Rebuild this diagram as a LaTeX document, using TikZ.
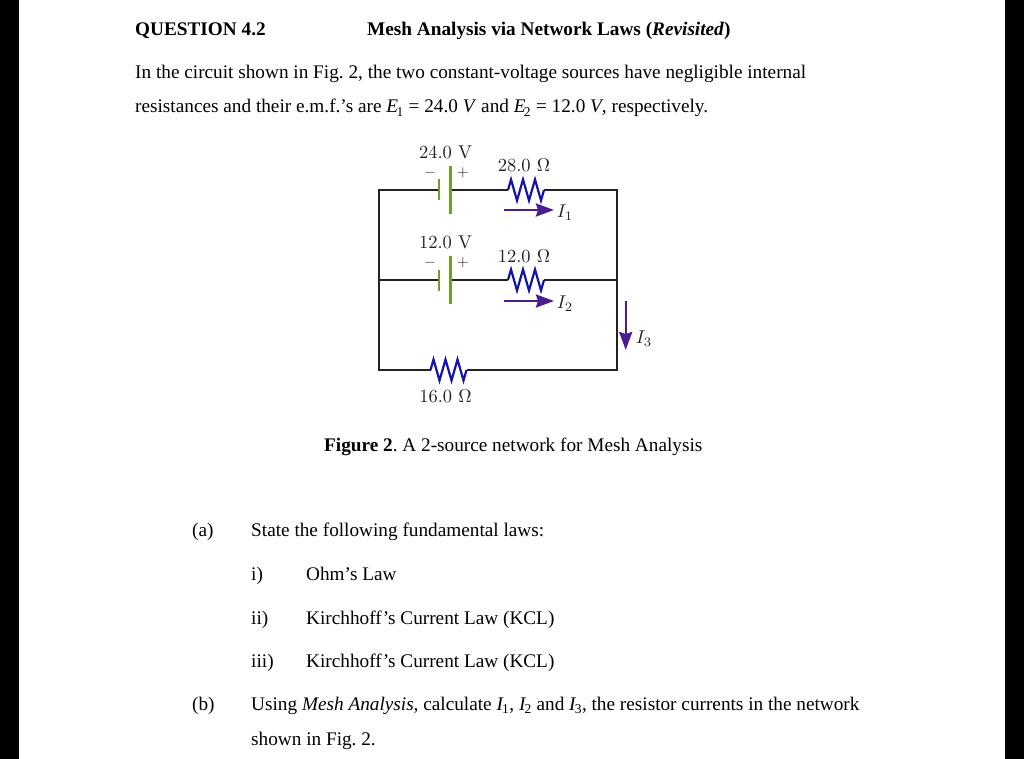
\documentclass[tikz,border=0pt]{standalone}
\usepackage{fontspec}
\setmainfont{Liberation Serif}
\newfontfamily\lmfont{Latin Modern Roman}
\usetikzlibrary{arrows.meta}
\definecolor{wiregray}{HTML}{222222}
\definecolor{plategreen}{HTML}{6FA02C}
\definecolor{zigblue}{HTML}{1414A8}
\definecolor{currpurple}{HTML}{4A1E8C}
\tikzset{
    wire/.style={line width=2.1pt, wiregray},
    thinplate/.style={line width=2.3pt, plategreen},
    thickplate/.style={line width=2.8pt, plategreen},
    zigzag/.style={line width=2.2pt, zigblue, line join=miter},
    current/.style={line width=2.4pt, currpurple, -{Stealth[length=18pt,width=13pt,inset=2pt]}},
    body/.style={anchor=base west, inner sep=0pt, font=\fontsize{19.25}{21}\selectfont\frenchspacing},
    lab/.style={inner sep=0pt, scale=1.85, font=\lmfont, wiregray},
    polarity/.style={inner sep=0pt, scale=1.5, wiregray},
    pics/resistor/.style={code={
        \draw[zigzag] (-18,0) -- (-15,-10.5) -- (-9,10.5) -- (-3,-10.5) -- (3,10.5) -- (9,-10.5) -- (15,10.5) -- (18,0);
    }}
}
\newcommand{\cur}[1]{$I_{#1}$}
\newcommand{\tsub}[2]{\textit{#1}\hspace{-1.6pt}\textsubscript{#2}}
\begin{document}
\begin{tikzpicture}[x=1pt,y=-1pt]
    \useasboundingbox (0,0) rectangle (1024,759);
    % side bars
    \fill[black] (0,0) rectangle (19,759);
    \fill[black] (1005,0) rectangle (1024,759);

    % heading
    \node[body] (head) at (135,36) {\textbf{QUESTION 4.2}};
    \node[body] (title) at (367,36) {\textbf{Mesh Analysis via Network Laws (\textit{Revisited})}};
    \node[body] (introa) at (135,79) {In the circuit shown in Fig. 2, the two constant-voltage sources have negligible internal};
    \node[body] (introb) at (135,113) {resistances and their e.m.f.'s are \tsub{E}{1} = 24.0 \textit{V} and \tsub{E}{2} = 12.0 \textit{V}, respectively.};

    % corners
    \coordinate (tl) at (379,190);
    \coordinate (tr) at (617,190);
    \coordinate (ml) at (379,280);
    \coordinate (mr) at (617,280);
    \coordinate (bl) at (379,370);
    \coordinate (br) at (617,370);
    \coordinate (batA) at (439,190);
    \coordinate (batAp) at (450.5,190);
    \coordinate (batB) at (439,280);
    \coordinate (batBp) at (450.5,280);
    \coordinate (resA) at (526,190);
    \coordinate (resB) at (526,280);
    \coordinate (resC) at (448.5,370);

    % wires
    \draw[wire] (batA) -- (tl) -- (bl) -- ([xshift=-18pt]resC);
    \draw[wire] ([xshift=18pt]resC) -- (br) -- (tr) -- ([xshift=18pt]resA);
    \draw[wire] (batAp) -- ([xshift=-18pt]resA);
    \draw[wire] (ml) -- (batB);
    \draw[wire] (batBp) -- ([xshift=-18pt]resB);
    \draw[wire] ([xshift=18pt]resB) -- (mr);

    % sources
    \draw[thinplate] ([yshift=-10.5pt]batA) -- ([yshift=10.5pt]batA);
    \draw[thickplate] ([yshift=-24.5pt]batAp) -- ([yshift=23.5pt]batAp);
    \draw[thinplate] ([yshift=-10.5pt]batB) -- ([yshift=10.5pt]batB);
    \draw[thickplate] ([yshift=-24pt]batBp) -- ([yshift=24pt]batBp);

    % resistors
    \pic at (resA) {resistor};
    \pic at (resB) {resistor};
    \pic at (resC) {resistor};

    % currents
    \coordinate (ioneS) at (504,210);
    \coordinate (ioneE) at (554,210);
    \coordinate (itwoS) at (504,301);
    \coordinate (itwoE) at (554,301);
    \coordinate (ithrS) at (625.7,301);
    \coordinate (ithrE) at (625.7,350);
    \draw[current] (ioneS) -- (ioneE);
    \draw[current] (itwoS) -- (itwoE);
    \draw[current] (ithrS) -- (ithrE);

    % circuit labels
    \node[lab] (vone) at (445.5,152) {24.0 V};
    \node[polarity] (mone) at (430,173) {$-$};
    \node[polarity] (pone) at (463,173) {$+$};
    \node[lab] (rone) at (524,165) {28.0 $\Omega$};
    \node[lab] (lone) at (565,213) {\cur{1}};
    \node[lab] (vtwo) at (445.5,242) {12.0 V};
    \node[polarity] (mtwo) at (430,263) {$-$};
    \node[polarity] (ptwo) at (463,263) {$+$};
    \node[lab] (rtwo) at (524,256) {12.0 $\Omega$};
    \node[lab] (ltwo) at (565,304) {\cur{2}};
    \node[lab] (lthr) at (644,339) {\cur{3}};
    \node[lab] (rthr) at (445.5,396) {16.0 $\Omega$};

    % caption
    \node[body] (caption) at (324,451) {\textbf{Figure 2}. A 2-source network for Mesh Analysis};

    % questions
    \node[body] (parta) at (192,536) {(a)};
    \node[body] (lawhead) at (251,536) {State the following fundamental laws:};
    \node[body] (itemi) at (251,580) {i)};
    \node[body] (lawi) at (306,580) {Ohm's Law};
    \node[body] (itemii) at (251,624) {ii)};
    \node[body] (lawii) at (306,624) {Kirchhoff's Current Law (KCL)};
    \node[body] (itemiii) at (251,667) {iii)};
    \node[body] (lawiii) at (306,667) {Kirchhoff's Current Law (KCL)};
    \node[body] (partb) at (192,710) {(b)};
    \node[body] (meshq) at (251,710) {Using \textit{Mesh Analysis}, calculate \tsub{I}{1}, \tsub{I}{2} and \tsub{I}{3}, the resistor currents in the network};
    \node[body] (meshr) at (251,745) {shown in Fig. 2.};
\end{tikzpicture}
\end{document}
